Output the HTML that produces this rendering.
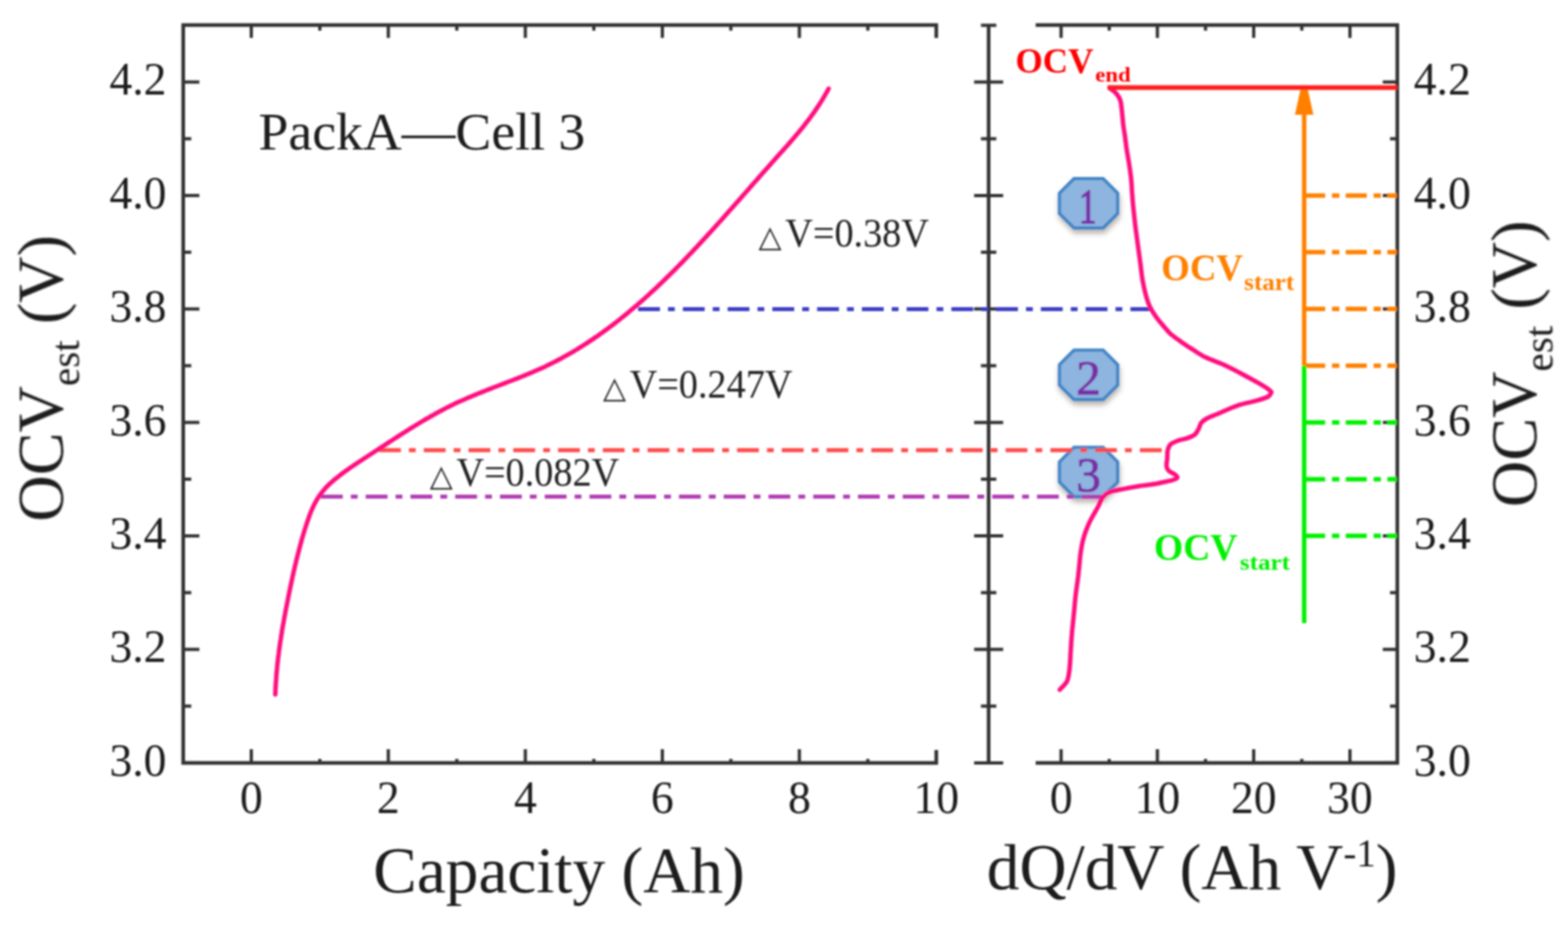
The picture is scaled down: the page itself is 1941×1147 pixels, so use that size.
<!DOCTYPE html>
<html><head><meta charset="utf-8"><title>OCV chart</title>
<style>html,body{margin:0;padding:0;background:#fff;overflow:hidden}svg{display:block}</style>
</head><body>
<svg width="1941" height="1147" viewBox="0 0 1941 1147">
<defs>
<filter id="sh" x="-30%" y="-30%" width="160%" height="170%">
<feGaussianBlur in="SourceAlpha" stdDeviation="3"/>
<feOffset dx="1" dy="5" result="ob"/>
<feFlood flood-color="#6b5a4a" flood-opacity="0.45"/>
<feComposite in2="ob" operator="in"/>
<feMerge><feMergeNode/><feMergeNode in="SourceGraphic"/></feMerge>
</filter>
<filter id="soft" x="0" y="0" width="100%" height="100%" filterUnits="userSpaceOnUse">
<feGaussianBlur stdDeviation="1.2"/>
</filter>
</defs>
<rect width="1941" height="1147" fill="#ffffff"/>
<g filter="url(#soft)">
<path d="M1159.0,46.9 L1159.0,30.9 L226.8,30.9 L226.8,944.0 L1159.0,944.0 L1159.0,928.0" fill="none" stroke="#333333" stroke-width="4.5" stroke-linejoin="miter"/>
<line x1="226.8" y1="943.9" x2="246.8" y2="943.9" stroke="#333333" stroke-width="4.0" />
<line x1="226.8" y1="873.7" x2="236.8" y2="873.7" stroke="#333333" stroke-width="4.0" />
<line x1="226.8" y1="803.5" x2="246.8" y2="803.5" stroke="#333333" stroke-width="4.0" />
<line x1="226.8" y1="733.3" x2="236.8" y2="733.3" stroke="#333333" stroke-width="4.0" />
<line x1="226.8" y1="663.1" x2="246.8" y2="663.1" stroke="#333333" stroke-width="4.0" />
<line x1="226.8" y1="592.9" x2="236.8" y2="592.9" stroke="#333333" stroke-width="4.0" />
<line x1="226.8" y1="522.7" x2="246.8" y2="522.7" stroke="#333333" stroke-width="4.0" />
<line x1="226.8" y1="452.5" x2="236.8" y2="452.5" stroke="#333333" stroke-width="4.0" />
<line x1="226.8" y1="382.3" x2="246.8" y2="382.3" stroke="#333333" stroke-width="4.0" />
<line x1="226.8" y1="312.1" x2="236.8" y2="312.1" stroke="#333333" stroke-width="4.0" />
<line x1="226.8" y1="241.9" x2="246.8" y2="241.9" stroke="#333333" stroke-width="4.0" />
<line x1="226.8" y1="171.7" x2="236.8" y2="171.7" stroke="#333333" stroke-width="4.0" />
<line x1="226.8" y1="101.5" x2="246.8" y2="101.5" stroke="#333333" stroke-width="4.0" />
<line x1="311.1" y1="30.9" x2="311.1" y2="46.9" stroke="#333333" stroke-width="4.0" />
<line x1="311.1" y1="944.0" x2="311.1" y2="927.0" stroke="#333333" stroke-width="4.0" />
<line x1="395.9" y1="30.9" x2="395.9" y2="37.9" stroke="#333333" stroke-width="4.0" />
<line x1="395.9" y1="944.0" x2="395.9" y2="939.0" stroke="#333333" stroke-width="4.0" />
<line x1="480.7" y1="30.9" x2="480.7" y2="46.9" stroke="#333333" stroke-width="4.0" />
<line x1="480.7" y1="944.0" x2="480.7" y2="927.0" stroke="#333333" stroke-width="4.0" />
<line x1="565.5" y1="30.9" x2="565.5" y2="37.9" stroke="#333333" stroke-width="4.0" />
<line x1="565.5" y1="944.0" x2="565.5" y2="939.0" stroke="#333333" stroke-width="4.0" />
<line x1="650.3" y1="30.9" x2="650.3" y2="46.9" stroke="#333333" stroke-width="4.0" />
<line x1="650.3" y1="944.0" x2="650.3" y2="927.0" stroke="#333333" stroke-width="4.0" />
<line x1="735.1" y1="30.9" x2="735.1" y2="37.9" stroke="#333333" stroke-width="4.0" />
<line x1="735.1" y1="944.0" x2="735.1" y2="939.0" stroke="#333333" stroke-width="4.0" />
<line x1="819.9" y1="30.9" x2="819.9" y2="46.9" stroke="#333333" stroke-width="4.0" />
<line x1="819.9" y1="944.0" x2="819.9" y2="927.0" stroke="#333333" stroke-width="4.0" />
<line x1="904.7" y1="30.9" x2="904.7" y2="37.9" stroke="#333333" stroke-width="4.0" />
<line x1="904.7" y1="944.0" x2="904.7" y2="939.0" stroke="#333333" stroke-width="4.0" />
<line x1="989.5" y1="30.9" x2="989.5" y2="46.9" stroke="#333333" stroke-width="4.0" />
<line x1="989.5" y1="944.0" x2="989.5" y2="927.0" stroke="#333333" stroke-width="4.0" />
<line x1="1074.3" y1="30.9" x2="1074.3" y2="37.9" stroke="#333333" stroke-width="4.0" />
<line x1="1074.3" y1="944.0" x2="1074.3" y2="939.0" stroke="#333333" stroke-width="4.0" />
<line x1="1223.8" y1="30.9" x2="1223.8" y2="944.0" stroke="#333333" stroke-width="4.5" />
<line x1="1205.8" y1="943.9" x2="1241.8" y2="943.9" stroke="#333333" stroke-width="4.0" />
<line x1="1214.3" y1="873.7" x2="1233.3" y2="873.7" stroke="#333333" stroke-width="4.0" />
<line x1="1205.8" y1="803.5" x2="1241.8" y2="803.5" stroke="#333333" stroke-width="4.0" />
<line x1="1214.3" y1="733.3" x2="1233.3" y2="733.3" stroke="#333333" stroke-width="4.0" />
<line x1="1205.8" y1="663.1" x2="1241.8" y2="663.1" stroke="#333333" stroke-width="4.0" />
<line x1="1214.3" y1="592.9" x2="1233.3" y2="592.9" stroke="#333333" stroke-width="4.0" />
<line x1="1205.8" y1="522.7" x2="1241.8" y2="522.7" stroke="#333333" stroke-width="4.0" />
<line x1="1214.3" y1="452.5" x2="1233.3" y2="452.5" stroke="#333333" stroke-width="4.0" />
<line x1="1205.8" y1="382.3" x2="1241.8" y2="382.3" stroke="#333333" stroke-width="4.0" />
<line x1="1214.3" y1="312.1" x2="1233.3" y2="312.1" stroke="#333333" stroke-width="4.0" />
<line x1="1205.8" y1="241.9" x2="1241.8" y2="241.9" stroke="#333333" stroke-width="4.0" />
<line x1="1214.3" y1="171.7" x2="1233.3" y2="171.7" stroke="#333333" stroke-width="4.0" />
<line x1="1205.8" y1="101.5" x2="1241.8" y2="101.5" stroke="#333333" stroke-width="4.0" />
<line x1="1214.3" y1="31.3" x2="1233.3" y2="31.3" stroke="#333333" stroke-width="4.0" />
<path d="M1282.0,30.9 L1729.7,30.9 L1729.7,944.0 L1282.0,944.0" fill="none" stroke="#333333" stroke-width="4.5" stroke-linejoin="miter"/>
<line x1="1729.7" y1="943.9" x2="1711.7" y2="943.9" stroke="#333333" stroke-width="4.0" />
<line x1="1729.7" y1="873.7" x2="1720.7" y2="873.7" stroke="#333333" stroke-width="4.0" />
<line x1="1729.7" y1="803.5" x2="1711.7" y2="803.5" stroke="#333333" stroke-width="4.0" />
<line x1="1729.7" y1="733.3" x2="1720.7" y2="733.3" stroke="#333333" stroke-width="4.0" />
<line x1="1729.7" y1="663.1" x2="1711.7" y2="663.1" stroke="#333333" stroke-width="4.0" />
<line x1="1729.7" y1="592.9" x2="1720.7" y2="592.9" stroke="#333333" stroke-width="4.0" />
<line x1="1729.7" y1="522.7" x2="1711.7" y2="522.7" stroke="#333333" stroke-width="4.0" />
<line x1="1729.7" y1="452.5" x2="1720.7" y2="452.5" stroke="#333333" stroke-width="4.0" />
<line x1="1729.7" y1="382.3" x2="1711.7" y2="382.3" stroke="#333333" stroke-width="4.0" />
<line x1="1729.7" y1="312.1" x2="1720.7" y2="312.1" stroke="#333333" stroke-width="4.0" />
<line x1="1729.7" y1="241.9" x2="1711.7" y2="241.9" stroke="#333333" stroke-width="4.0" />
<line x1="1729.7" y1="171.7" x2="1720.7" y2="171.7" stroke="#333333" stroke-width="4.0" />
<line x1="1729.7" y1="101.5" x2="1711.7" y2="101.5" stroke="#333333" stroke-width="4.0" />
<line x1="1313.5" y1="30.9" x2="1313.5" y2="46.9" stroke="#333333" stroke-width="4.0" />
<line x1="1313.5" y1="944.0" x2="1313.5" y2="927.0" stroke="#333333" stroke-width="4.0" />
<line x1="1373.1" y1="30.9" x2="1373.1" y2="37.9" stroke="#333333" stroke-width="4.0" />
<line x1="1373.1" y1="944.0" x2="1373.1" y2="939.0" stroke="#333333" stroke-width="4.0" />
<line x1="1432.7" y1="30.9" x2="1432.7" y2="46.9" stroke="#333333" stroke-width="4.0" />
<line x1="1432.7" y1="944.0" x2="1432.7" y2="927.0" stroke="#333333" stroke-width="4.0" />
<line x1="1492.3" y1="30.9" x2="1492.3" y2="37.9" stroke="#333333" stroke-width="4.0" />
<line x1="1492.3" y1="944.0" x2="1492.3" y2="939.0" stroke="#333333" stroke-width="4.0" />
<line x1="1551.9" y1="30.9" x2="1551.9" y2="46.9" stroke="#333333" stroke-width="4.0" />
<line x1="1551.9" y1="944.0" x2="1551.9" y2="927.0" stroke="#333333" stroke-width="4.0" />
<line x1="1611.5" y1="30.9" x2="1611.5" y2="37.9" stroke="#333333" stroke-width="4.0" />
<line x1="1611.5" y1="944.0" x2="1611.5" y2="939.0" stroke="#333333" stroke-width="4.0" />
<line x1="1671.1" y1="30.9" x2="1671.1" y2="46.9" stroke="#333333" stroke-width="4.0" />
<line x1="1671.1" y1="944.0" x2="1671.1" y2="927.0" stroke="#333333" stroke-width="4.0" />
<text x="206.0" y="959.7" font-family="Liberation Serif, Times New Roman, serif" font-size="56.5" fill="#1a1a1a" text-anchor="end" font-weight="normal" >3.0</text>
<text x="1750.0" y="959.7" font-family="Liberation Serif, Times New Roman, serif" font-size="56.5" fill="#1a1a1a" text-anchor="start" font-weight="normal" >3.0</text>
<text x="206.0" y="819.3" font-family="Liberation Serif, Times New Roman, serif" font-size="56.5" fill="#1a1a1a" text-anchor="end" font-weight="normal" >3.2</text>
<text x="1750.0" y="819.3" font-family="Liberation Serif, Times New Roman, serif" font-size="56.5" fill="#1a1a1a" text-anchor="start" font-weight="normal" >3.2</text>
<text x="206.0" y="678.9" font-family="Liberation Serif, Times New Roman, serif" font-size="56.5" fill="#1a1a1a" text-anchor="end" font-weight="normal" >3.4</text>
<text x="1750.0" y="678.9" font-family="Liberation Serif, Times New Roman, serif" font-size="56.5" fill="#1a1a1a" text-anchor="start" font-weight="normal" >3.4</text>
<text x="206.0" y="538.5" font-family="Liberation Serif, Times New Roman, serif" font-size="56.5" fill="#1a1a1a" text-anchor="end" font-weight="normal" >3.6</text>
<text x="1750.0" y="538.5" font-family="Liberation Serif, Times New Roman, serif" font-size="56.5" fill="#1a1a1a" text-anchor="start" font-weight="normal" >3.6</text>
<text x="206.0" y="398.1" font-family="Liberation Serif, Times New Roman, serif" font-size="56.5" fill="#1a1a1a" text-anchor="end" font-weight="normal" >3.8</text>
<text x="1750.0" y="398.1" font-family="Liberation Serif, Times New Roman, serif" font-size="56.5" fill="#1a1a1a" text-anchor="start" font-weight="normal" >3.8</text>
<text x="206.0" y="257.7" font-family="Liberation Serif, Times New Roman, serif" font-size="56.5" fill="#1a1a1a" text-anchor="end" font-weight="normal" >4.0</text>
<text x="1750.0" y="257.7" font-family="Liberation Serif, Times New Roman, serif" font-size="56.5" fill="#1a1a1a" text-anchor="start" font-weight="normal" >4.0</text>
<text x="206.0" y="117.3" font-family="Liberation Serif, Times New Roman, serif" font-size="56.5" fill="#1a1a1a" text-anchor="end" font-weight="normal" >4.2</text>
<text x="1750.0" y="117.3" font-family="Liberation Serif, Times New Roman, serif" font-size="56.5" fill="#1a1a1a" text-anchor="start" font-weight="normal" >4.2</text>
<text x="311.1" y="1005.5" font-family="Liberation Serif, Times New Roman, serif" font-size="56.5" fill="#1a1a1a" text-anchor="middle" font-weight="normal" >0</text>
<text x="480.7" y="1005.5" font-family="Liberation Serif, Times New Roman, serif" font-size="56.5" fill="#1a1a1a" text-anchor="middle" font-weight="normal" >2</text>
<text x="650.3" y="1005.5" font-family="Liberation Serif, Times New Roman, serif" font-size="56.5" fill="#1a1a1a" text-anchor="middle" font-weight="normal" >4</text>
<text x="819.9" y="1005.5" font-family="Liberation Serif, Times New Roman, serif" font-size="56.5" fill="#1a1a1a" text-anchor="middle" font-weight="normal" >6</text>
<text x="989.5" y="1005.5" font-family="Liberation Serif, Times New Roman, serif" font-size="56.5" fill="#1a1a1a" text-anchor="middle" font-weight="normal" >8</text>
<text x="1159.1" y="1005.5" font-family="Liberation Serif, Times New Roman, serif" font-size="56.5" fill="#1a1a1a" text-anchor="middle" font-weight="normal" >10</text>
<text x="1313.5" y="1005.5" font-family="Liberation Serif, Times New Roman, serif" font-size="56.5" fill="#1a1a1a" text-anchor="middle" font-weight="normal" >0</text>
<text x="1432.7" y="1005.5" font-family="Liberation Serif, Times New Roman, serif" font-size="56.5" fill="#1a1a1a" text-anchor="middle" font-weight="normal" >10</text>
<text x="1551.9" y="1005.5" font-family="Liberation Serif, Times New Roman, serif" font-size="56.5" fill="#1a1a1a" text-anchor="middle" font-weight="normal" >20</text>
<text x="1671.1" y="1005.5" font-family="Liberation Serif, Times New Roman, serif" font-size="56.5" fill="#1a1a1a" text-anchor="middle" font-weight="normal" >30</text>
<text x="462" y="1104" font-family="Liberation Serif, Times New Roman, serif" font-size="80.8" fill="#1a1a1a">Capacity (Ah)</text>
<text x="1221.5" y="1100" font-family="Liberation Serif, Times New Roman, serif" font-size="80.8" fill="#1a1a1a">dQ/dV (Ah V<tspan font-size="48" dy="-28">-1</tspan><tspan dy="28">)</tspan></text>
<text transform="translate(77.5,645.5) rotate(-90)" font-family="Liberation Serif, Times New Roman, serif" font-size="79.5" fill="#1a1a1a">OCV<tspan font-size="51" dy="20">est</tspan><tspan dy="-20"> (V)</tspan></text>
<text transform="translate(1901.5,627.5) rotate(-90)" font-family="Liberation Serif, Times New Roman, serif" font-size="79.5" fill="#1a1a1a">OCV<tspan font-size="51" dy="20">est</tspan><tspan dy="-20"> (V)</tspan></text>
<text x="320" y="185" font-family="Liberation Serif, Times New Roman, serif" font-size="66.5" fill="#1a1a1a">PackA—Cell 3</text>
<polygon points="1329.5,221.1 1365.5,221.1 1383.5,239.1 1383.5,264.1 1365.5,282.1 1329.5,282.1 1311.5,264.1 1311.5,239.1" fill="#8db5df" stroke="#4285c6" stroke-width="4" filter="url(#sh)"/>
<text transform="translate(1346.5,275.6) scale(0.7,1)" font-family="Liberation Serif, Times New Roman, serif" font-size="61" fill="#7a2fa6" stroke="#7a2fa6" stroke-width="2" text-anchor="middle">1</text>
<polygon points="1329.5,433.3 1365.5,433.3 1383.5,451.3 1383.5,476.3 1365.5,494.3 1329.5,494.3 1311.5,476.3 1311.5,451.3" fill="#8db5df" stroke="#4285c6" stroke-width="4" filter="url(#sh)"/>
<text x="1347.5" y="487.8" font-family="Liberation Serif, Times New Roman, serif" font-size="61" fill="#7a2fa6" stroke="#7a2fa6" stroke-width="1.2" text-anchor="middle">2</text>
<polygon points="1329.5,553.5 1365.5,553.5 1383.5,571.5 1383.5,596.5 1365.5,614.5 1329.5,614.5 1311.5,596.5 1311.5,571.5" fill="#8db5df" stroke="#4285c6" stroke-width="4" filter="url(#sh)"/>
<text x="1347.5" y="608.0" font-family="Liberation Serif, Times New Roman, serif" font-size="61" fill="#7a2fa6" stroke="#7a2fa6" stroke-width="1.2" text-anchor="middle">3</text>
<line x1="789.9" y1="382.5" x2="1424.0" y2="382.5" stroke="#3c3cc4" stroke-width="5" stroke-dasharray="27 10 8.4 10"/>
<line x1="469.2" y1="557.0" x2="1440.0" y2="557.0" stroke="#ff4848" stroke-width="5" stroke-dasharray="27 10 8.4 10"/>
<line x1="397.3" y1="614.5" x2="1366.0" y2="614.5" stroke="#b23cb4" stroke-width="5" stroke-dasharray="27 10 8.4 10"/>
<line x1="1614.4" y1="241.9" x2="1729.0" y2="241.9" stroke="#ff8000" stroke-width="5.5" stroke-dasharray="26 8.5 9 8"/>
<line x1="1614.4" y1="312.1" x2="1729.0" y2="312.1" stroke="#ff8000" stroke-width="5.5" stroke-dasharray="26 8.5 9 8"/>
<line x1="1614.4" y1="382.3" x2="1729.0" y2="382.3" stroke="#ff8000" stroke-width="5.5" stroke-dasharray="26 8.5 9 8"/>
<line x1="1614.4" y1="452.5" x2="1729.0" y2="452.5" stroke="#ff8000" stroke-width="5.5" stroke-dasharray="26 8.5 9 8"/>
<line x1="1614.4" y1="522.7" x2="1729.0" y2="522.7" stroke="#00f000" stroke-width="5.5" stroke-dasharray="26 8.5 9 8"/>
<line x1="1614.4" y1="592.9" x2="1729.0" y2="592.9" stroke="#00f000" stroke-width="5.5" stroke-dasharray="26 8.5 9 8"/>
<line x1="1614.4" y1="663.1" x2="1729.0" y2="663.1" stroke="#00f000" stroke-width="5.5" stroke-dasharray="26 8.5 9 8"/>
<path d="M340.8,859.3 L340.9,855.6 L341.1,851.9 L341.3,848.3 L341.5,844.6 L341.8,841.0 L342.0,837.4 L342.3,833.8 L342.6,830.2 L343.0,826.6 L343.3,823.0 L343.7,819.4 L344.1,815.9 L344.5,812.3 L345.0,808.8 L345.4,805.2 L345.9,801.7 L346.4,798.1 L346.9,794.6 L347.5,791.1 L348.0,787.6 L348.6,784.0 L349.1,780.5 L349.7,777.0 L350.3,773.5 L351.0,770.0 L351.6,766.5 L352.2,763.0 L352.9,759.5 L353.5,756.0 L354.2,752.5 L354.9,749.0 L355.6,745.5 L356.3,741.9 L357.0,738.4 L357.7,734.9 L358.4,731.4 L359.1,727.9 L359.9,724.4 L360.6,720.9 L361.4,717.3 L362.1,713.8 L362.9,710.3 L363.7,706.8 L364.5,703.3 L365.3,699.7 L366.2,696.2 L367.0,692.7 L367.9,689.2 L368.8,685.7 L369.7,682.2 L370.6,678.7 L371.5,675.2 L372.5,671.7 L373.4,668.2 L374.4,664.7 L375.5,661.2 L376.5,657.8 L377.6,654.3 L378.7,650.8 L379.8,647.4 L381.0,644.0 L382.2,640.5 L383.4,637.1 L384.7,633.8 L386.1,630.5 L387.6,627.2 L389.1,624.0 L390.8,620.9 L392.5,617.8 L394.4,614.9 L396.4,612.0 L398.5,609.2 L400.7,606.5 L403.0,603.8 L405.5,601.3 L408.0,598.8 L410.6,596.4 L413.3,594.0 L416.1,591.8 L418.9,589.5 L421.7,587.3 L424.6,585.2 L427.5,583.0 L430.5,580.9 L433.5,578.8 L436.5,576.8 L439.5,574.7 L442.5,572.7 L445.5,570.7 L448.6,568.7 L451.6,566.7 L454.7,564.7 L457.7,562.7 L460.8,560.7 L463.8,558.8 L466.9,556.8 L469.9,554.8 L472.9,552.8 L476.0,550.9 L479.0,548.9 L482.0,546.9 L485.0,545.0 L488.0,543.0 L491.0,541.1 L494.0,539.1 L497.1,537.2 L500.1,535.3 L503.1,533.4 L506.1,531.5 L509.1,529.6 L512.1,527.7 L515.2,525.8 L518.2,524.0 L521.3,522.2 L524.3,520.3 L527.4,518.5 L530.4,516.8 L533.5,515.0 L536.6,513.3 L539.7,511.5 L542.8,509.8 L545.9,508.2 L549.1,506.5 L552.2,504.9 L555.4,503.3 L558.6,501.7 L561.8,500.1 L565.0,498.6 L568.3,497.1 L571.5,495.7 L574.8,494.2 L578.1,492.8 L581.4,491.4 L584.7,490.0 L588.0,488.6 L591.3,487.3 L594.7,485.9 L598.0,484.6 L601.4,483.3 L604.7,481.9 L608.1,480.6 L611.5,479.3 L614.8,478.0 L618.2,476.7 L621.6,475.4 L625.0,474.1 L628.4,472.8 L631.7,471.5 L635.1,470.2 L638.5,468.9 L641.9,467.6 L645.2,466.2 L648.6,464.9 L651.9,463.5 L655.3,462.1 L658.6,460.7 L661.9,459.3 L665.2,457.8 L668.5,456.4 L671.8,454.9 L675.1,453.4 L678.3,451.8 L681.5,450.2 L684.8,448.6 L688.0,447.0 L691.2,445.3 L694.3,443.7 L697.5,441.9 L700.6,440.2 L703.8,438.4 L706.9,436.7 L710.0,434.8 L713.0,433.0 L716.1,431.1 L719.2,429.2 L722.2,427.3 L725.2,425.4 L728.2,423.4 L731.2,421.4 L734.2,419.4 L737.2,417.4 L740.1,415.4 L743.0,413.3 L746.0,411.2 L748.9,409.1 L751.8,407.0 L754.6,404.8 L757.5,402.7 L760.4,400.5 L763.2,398.3 L766.0,396.1 L768.8,393.8 L771.7,391.6 L774.4,389.3 L777.2,387.0 L780.0,384.7 L782.7,382.4 L785.5,380.1 L788.2,377.8 L790.9,375.4 L793.6,373.1 L796.3,370.7 L799.0,368.3 L801.6,365.9 L804.3,363.5 L806.9,361.0 L809.6,358.6 L812.2,356.2 L814.8,353.7 L817.4,351.2 L820.0,348.8 L822.6,346.3 L825.1,343.8 L827.7,341.3 L830.2,338.7 L832.8,336.2 L835.3,333.7 L837.9,331.1 L840.4,328.6 L842.9,326.0 L845.4,323.5 L847.9,320.9 L850.4,318.3 L852.8,315.7 L855.3,313.1 L857.8,310.5 L860.2,307.9 L862.7,305.3 L865.1,302.6 L867.6,300.0 L870.0,297.4 L872.5,294.7 L874.9,292.1 L877.3,289.4 L879.7,286.8 L882.1,284.1 L884.5,281.5 L886.9,278.8 L889.4,276.1 L891.7,273.5 L894.1,270.8 L896.5,268.1 L898.9,265.4 L901.3,262.7 L903.7,260.0 L906.1,257.3 L908.5,254.6 L910.8,252.0 L913.2,249.3 L915.6,246.6 L918.0,243.9 L920.3,241.2 L922.7,238.5 L925.1,235.8 L927.5,233.1 L929.8,230.4 L932.2,227.7 L934.6,225.0 L937.0,222.3 L939.3,219.6 L941.7,216.9 L944.1,214.2 L946.5,211.5 L948.9,208.8 L951.3,206.1 L953.7,203.4 L956.0,200.8 L958.4,198.1 L960.8,195.4 L963.2,192.7 L965.6,190.0 L968.0,187.4 L970.4,184.7 L972.8,182.0 L975.2,179.3 L977.5,176.6 L979.9,173.9 L982.2,171.2 L984.5,168.5 L986.9,165.7 L989.2,163.0 L991.4,160.2 L993.7,157.4 L995.9,154.6 L998.1,151.8 L1000.3,149.0 L1002.5,146.1 L1004.6,143.2 L1006.7,140.3 L1008.8,137.4 L1010.8,134.4 L1012.8,131.4 L1014.8,128.4 L1016.7,125.4 L1018.6,122.3 L1020.4,119.2 L1022.2,116.1 L1024.0,112.9 L1025.7,109.7" fill="none" stroke="#ff0a7e" stroke-width="5.5" stroke-linecap="round" stroke-linejoin="round"/>
<path d="M1373.5,108.8 C1374.9,110.0 1379.8,113.3 1382.0,115.9 C1384.2,118.5 1385.8,121.0 1386.9,124.4 C1388.0,127.9 1388.1,131.5 1388.7,136.6 C1389.3,141.7 1389.9,149.9 1390.5,155.0 C1391.1,160.1 1391.7,162.1 1392.4,167.2 C1393.1,172.3 1393.9,179.4 1394.8,185.5 C1395.7,191.6 1397.0,197.7 1397.9,203.8 C1398.8,209.9 1399.7,216.1 1400.3,222.1 C1400.9,228.1 1401.1,234.8 1401.5,240.0 C1401.9,245.2 1402.0,247.3 1402.6,253.5 C1403.2,259.7 1404.2,269.2 1405.1,277.1 C1406.0,285.0 1407.2,292.8 1408.2,300.6 C1409.2,308.4 1410.4,316.3 1411.4,324.1 C1412.5,331.9 1413.2,340.3 1414.5,347.6 C1415.8,354.9 1417.6,362.5 1419.2,368.0 C1420.8,373.5 1421.8,376.4 1423.9,380.6 C1426.0,384.8 1429.0,389.3 1431.8,393.1 C1434.6,396.9 1437.7,400.3 1440.5,403.6 C1443.3,406.9 1445.3,409.9 1448.8,413.0 C1452.3,416.1 1456.7,419.1 1461.4,422.4 C1466.1,425.7 1471.9,429.6 1477.1,432.9 C1482.3,436.2 1486.7,439.3 1492.8,442.3 C1498.9,445.3 1506.7,447.6 1513.7,450.7 C1520.7,453.8 1527.6,457.5 1534.6,461.2 C1541.6,464.9 1549.8,469.4 1555.6,472.7 C1561.4,476.0 1566.2,478.9 1569.2,481.0 C1572.2,483.1 1573.1,484.5 1573.9,485.2 C1573.3,486.1 1573.2,488.8 1570.2,490.5 C1567.2,492.2 1561.5,494.0 1555.6,495.7 C1549.7,497.4 1540.6,499.1 1534.6,500.9 C1528.6,502.7 1524.4,504.8 1519.7,506.7 C1515.0,508.6 1510.5,510.7 1506.3,512.5 C1502.1,514.3 1498.0,515.5 1494.8,517.3 C1491.6,519.0 1488.9,520.9 1487.1,523.0 C1485.3,525.1 1485.5,527.3 1484.2,529.7 C1482.9,532.1 1481.8,535.3 1479.4,537.4 C1477.0,539.5 1473.4,540.9 1469.9,542.2 C1466.4,543.5 1461.9,543.8 1458.4,545.1 C1454.9,546.4 1451.0,547.8 1448.8,549.9 C1446.6,552.0 1446.1,554.6 1445.4,557.5 C1444.8,560.4 1445.1,563.9 1444.9,567.1 C1444.7,570.3 1443.7,574.1 1444.0,576.7 C1444.3,579.3 1445.0,580.8 1446.8,582.5 C1448.5,584.2 1452.7,585.8 1454.5,587.2 C1456.3,588.6 1457.9,590.0 1457.4,591.1 C1456.9,592.2 1454.6,593.0 1451.6,594.0 C1448.6,595.0 1442.8,596.0 1439.2,596.8 C1435.6,597.6 1434.2,598.1 1430.0,598.8 C1425.8,599.5 1419.9,599.9 1413.7,600.9 C1407.5,601.9 1398.9,603.5 1392.8,604.6 C1386.7,605.7 1381.1,606.6 1377.1,607.7 C1373.1,608.8 1371.0,609.7 1368.7,611.4 C1366.4,613.1 1364.9,615.4 1363.5,617.7 C1362.1,620.0 1361.7,622.2 1360.3,625.0 C1358.9,627.8 1357.0,630.9 1355.1,634.4 C1353.2,637.9 1350.7,641.9 1348.8,645.9 C1346.9,649.9 1345.0,654.7 1343.6,658.5 C1342.2,662.3 1341.4,665.4 1340.5,668.9 C1339.6,672.4 1339.0,675.9 1338.4,679.4 C1337.8,682.9 1337.6,684.4 1337.0,690.0 C1336.4,695.6 1335.6,705.3 1334.7,712.9 C1333.8,720.5 1332.5,728.2 1331.6,735.8 C1330.7,743.4 1330.2,751.1 1329.4,758.7 C1328.7,766.3 1327.8,774.0 1327.1,781.6 C1326.4,789.2 1326.0,796.9 1325.5,804.5 C1325.0,812.1 1324.8,821.0 1324.0,827.4 C1323.2,833.8 1322.8,838.6 1321.0,842.7 C1319.2,846.8 1314.8,850.0 1313.3,851.8 C1311.8,853.6 1312.0,853.1 1311.8,853.4" fill="none" stroke="#ff0a7e" stroke-width="5.5" stroke-linecap="round" stroke-linejoin="round"/>
<line x1="1614.4" y1="135" x2="1614.4" y2="452.5" stroke="#ff8000" stroke-width="5.5"/>
<polygon points="1610.2,109 1618.6,109 1625.8,142 1603,142" fill="#ff8000"/>
<line x1="1614.4" y1="452.5" x2="1614.4" y2="771" stroke="#00f000" stroke-width="5.5"/>
<line x1="1371" y1="108.4" x2="1729.7" y2="108.4" stroke="#ff1c1c" stroke-width="5.6"/>
<text x="1257" y="90.2" font-family="Liberation Serif, Times New Roman, serif" font-size="43.5" font-weight="bold" fill="#ff0000">OCV<tspan font-size="25.5" dx="2" dy="10.8" textLength="44" lengthAdjust="spacingAndGlyphs">end</tspan></text>
<text x="1437.5" y="347" font-family="Liberation Serif, Times New Roman, serif" font-size="45.5" font-weight="bold" fill="#ff8000">OCV<tspan font-size="28.5" dx="1.5" dy="11.5" textLength="62" lengthAdjust="spacingAndGlyphs">start</tspan></text>
<text x="1428.5" y="692.8" font-family="Liberation Serif, Times New Roman, serif" font-size="46.5" font-weight="bold" fill="#00f000">OCV<tspan font-size="27.5" dx="3" dy="12.2" textLength="62" lengthAdjust="spacingAndGlyphs">start</tspan></text>
<text x="939" y="305.3" font-family="Liberation Serif, Times New Roman, serif" font-size="50" fill="#222"><tspan font-family="DejaVu Sans, sans-serif" font-size="37">△</tspan><tspan dx="4.5" textLength="178" lengthAdjust="spacingAndGlyphs">V=0.38V</tspan></text>
<text x="746.5" y="491.5" font-family="Liberation Serif, Times New Roman, serif" font-size="50" fill="#222"><tspan font-family="DejaVu Sans, sans-serif" font-size="37">△</tspan><tspan dx="4.5" textLength="201.5" lengthAdjust="spacingAndGlyphs">V=0.247V</tspan></text>
<text x="532" y="601" font-family="Liberation Serif, Times New Roman, serif" font-size="50" fill="#222"><tspan font-family="DejaVu Sans, sans-serif" font-size="37">△</tspan><tspan dx="4.5" textLength="201.6" lengthAdjust="spacingAndGlyphs">V=0.082V</tspan></text>
</g>
</svg>
</body></html>
